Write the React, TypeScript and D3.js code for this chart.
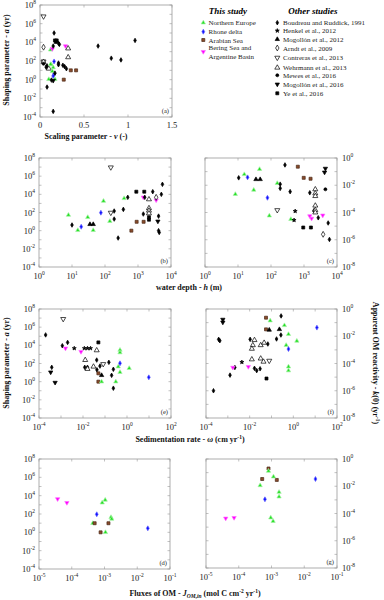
import { useEffect, useRef } from "react";
import * as d3 from "d3";

// [series, x, y]
type Pt = [string, number, number];

// (a) a vs v
const panelA: Pt[] = [
  ["CO", 0.04, 6e6], ["BR", 0.16, 1e5], ["YE", 0.17, 1.6e4], ["YE", 0.19, 1.6e4], ["YE", 0.18, 1.1e4],
  ["BR", 0.22, 6e3], ["BR", 0.21, 8e3], ["AR", 0.04, 3e3], ["NE", 0.12, 1.6e3], ["BS", 0.14, 2e3],
  ["BR", 0.15, 4e3], ["BS", 0.29, 4e3], ["WE", 0.32, 2.2e3], ["WE", 0.32, 2.5e2], ["BR", 0.66, 4e3],
  ["BR", 0.81, 2e2], ["BR", 0.92, 1.3e2], ["BR", 1.08, 1.6e4], ["CO", 0.04, 90], ["WE", 0.04, 80],
  ["ME", 0.04, 50], ["BR", 0.08, 30], ["WE", 0.1, 15], ["BR", 0.07, 22], ["RD", 0.16, 90],
  ["RD", 0.16, 4], ["RD", 0.15, 2.5], ["NE", 0.13, 40], ["NE", 0.15, 20], ["NE", 0.14, 8],
  ["NE", 0.1, 1.1], ["NE", 0.17, 1.1], ["NE", 0.12, 45], ["BR", 0.21, 60], ["BR", 0.21, 40],
  ["BR", 0.26, 35], ["BR", 0.28, 25], ["BR", 0.3, 15], ["BR", 0.17, 5], ["AS", 0.35, 10],
  ["AS", 0.41, 10], ["AS", 0.27, 1], ["M16", 0.15, 0.8], ["BR", 0.13, 0.9], ["BR", 0.08, 0.16],
  ["BR", 0.15, 4e-4],
];

// (b) a vs h
const panelB: Pt[] = [
  ["NE", 7.8, 52], ["NE", 15, 1.1], ["NE", 30, 30], ["NE", 44, 1.1], ["NE", 90, 1.8e3], ["NE", 140, 11],
  ["NE", 380, 3.6e3], ["BR", 10, 4.2], ["BR", 190, 145], ["BR", 190, 19], ["BR", 250, 0.155],
  ["BR", 360, 220], ["BR", 490, 4.7e3], ["RD", 19, 2.7], ["RD", 75, 95], ["M12", 35, 5], ["M12", 44, 5],
  ["CO", 150, 9.3e6], ["CO", 150, 95], ["AS", 630, 1], ["AS", 910, 9.5], ["AS", 1480, 9.5],
  ["YE", 890, 1.95e4], ["YE", 1550, 1.95e4], ["YE", 2150, 30], ["YE", 2150, 16], ["BR", 1450, 68],
  ["BR", 2800, 1.95e4], ["BR", 4200, 40], ["BR", 5100, 1e4], ["BR", 5500, 1.26e5], ["BR", 4200, 1],
  ["BR", 4400, 0.63], ["BS", 1450, 4.7e3], ["BS", 3550, 2.3e3], ["BR", 1600, 4.7e3],
  ["WE", 2150, 2.8e3], ["WE", 2150, 300], ["WE", 2150, 160], ["WE", 2150, 80], ["AR", 3550, 4.7e3],
  ["M16", 4000, 10.7],
];

// (c) k0 vs h
const panelC: Pt[] = [
  ["NE", 8.3, 2.2e-3], ["NE", 15.5, 6.3e-2], ["NE", 30, 4.5e-3], ["NE", 45, 0.15], ["NE", 89, 5.8e-5],
  ["NE", 155, 1.4e-2], ["NE", 400, 3.2e-5], ["BR", 10.5, 3.5e-2], ["BR", 190, 1.2e-2], ["BR", 190, 5.9e-3],
  ["BR", 265, 0.31], ["BR", 380, 3.4e-3], ["BR", 1500, 2.8e-3], ["BR", 2000, 1.35e-4], ["BR", 2700, 4.1e-5],
  ["BR", 5400, 1.7e-5], ["BR", 5900, 1.05e-6], ["RD", 19.5, 3.8e-2], ["RD", 78, 1.2e-3],
  ["M12", 35, 2.7e-2], ["M12", 47, 2.7e-2], ["CO", 155, 1.5e-4], ["HE", 500, 2.75e-5], ["HE", 540, 1.26e-4],
  ["AS", 650, 0.23], ["AS", 980, 3.5e-2], ["AS", 1580, 3e-2], ["YE", 950, 7.9e-6], ["YE", 1620, 7.9e-6],
  ["WE", 2200, 5e-3], ["WE", 2200, 2.5e-3], ["WE", 2200, 1.6e-3], ["WE", 2200, 3.2e-4], ["WE", 2200, 1.5e-4],
  ["WE", 2200, 1e-4], ["BS", 1500, 5.5e-5], ["BS", 1700, 3.7e-5], ["BS", 3700, 6.2e-5], ["ME", 4450, 5e-3],
  ["M16", 4450, 0.17], ["M16", 4200, 8.9e-2], ["AR", 3800, 2.5e-6],
];

// (e) a vs omega
const panelE: Pt[] = [
  ["CO", 1.26e-3, 8e6], ["CO", 8.3e-2, 87], ["BR", 2e-4, 1.4e5], ["BR", 1.15e-3, 9e3], ["BR", 2e-3, 2.1e4],
  ["BR", 3.8e-4, 38], ["BR", 4.2e-2, 240], ["BR", 1.5e-1, 135], ["BR", 2e-1, 5], ["BR", 2.4e-1, 23],
  ["BR", 2.4e-1, 0.19], ["BR", 5.9e-2, 52], ["BR", 4.3e-2, 20], ["BR", 1.2e-2, 38], ["BR", 1.6e-2, 38],
  ["M16", 3.4e-4, 11], ["M16", 5.4e-4, 0.8], ["BS", 1.6e-3, 4.7e3], ["BS", 8.1e-3, 2e3], ["HE", 4e-3, 4.7e3],
  ["HE", 1.15e-2, 4.7e3], ["HE", 1.6e-2, 4.7e3], ["HE", 2.2e-2, 4.7e3], ["WE", 4.2e-2, 2.8e3],
  ["WE", 1.26e-2, 240], ["WE", 1.6e-2, 25], ["WE", 3e-2, 45], ["YE", 5e-2, 2.1e4], ["AS", 5e-2, 8.3],
  ["AS", 5e-2, 1], ["M12", 7e-2, 5], ["NE", 7e-2, 1], ["NE", 0.31, 1], ["NE", 0.4, 45], ["NE", 0.48, 3e3],
  ["NE", 0.48, 1.6e3], ["NE", 0.48, 11], ["NE", 1.26, 30], ["RD", 0.48, 105], ["RD", 9.8, 3],
];

// (f) k0 vs omega
const panelF: Pt[] = [
  ["M16", 5.9e-4, 0.17], ["M16", 5.9e-4, 0.105], ["BR", 3.8e-4, 5.9e-3], ["BR", 4.3e-4, 4.7e-3],
  ["BR", 2.2e-4, 1e-6], ["BR", 1.26e-3, 1.4e-5], ["BR", 2.1e-3, 5.1e-5], ["BR", 1.05e-2, 5.9e-3],
  ["BR", 1.66e-2, 4.4e-5], ["BR", 2.1e-2, 3e-5], ["BR", 3e-2, 4.1e-5], ["BR", 6.8e-2, 2.7e-3],
  ["BR", 0.275, 0.31], ["BR", 0.27, 1.23e-2], ["BR", 0.17, 6.3e-3], ["BS", 1.7e-3, 5.1e-5],
  ["BS", 8.7e-3, 5.8e-5], ["HE", 4.4e-3, 1.26e-4], ["WE", 1.66e-2, 5.2e-3], ["WE", 1.4e-2, 2.2e-3],
  ["WE", 1.26e-2, 1.2e-3], ["WE", 1.26e-2, 2e-4], ["WE", 3.2e-2, 2.3e-4], ["WE", 4.3e-2, 1.35e-4],
  ["WE", 3.2e-2, 2.2e-3], ["WE", 4.6e-2, 3.3e-3], ["CO", 7.9e-2, 1.6e-4], ["YE", 5.9e-2, 7.9e-6],
  ["AS", 5.6e-2, 0.23], ["AS", 5.6e-2, 3.2e-2], ["NE", 8.7e-2, 0.14], ["NE", 0.39, 6.3e-2],
  ["NE", 0.6, 1.4e-2], ["NE", 0.47, 2.2e-3], ["NE", 0.6, 5.8e-5], ["NE", 0.6, 3e-5], ["NE", 1.45, 4.5e-3],
  ["M12", 7.9e-2, 2.9e-2], ["M12", 0.23, 3.2e-2], ["RD", 0.6, 1.15e-3], ["RD", 12, 4.3e-2],
];

// (d) a vs J
const panelD: Pt[] = [
  ["BS", 3.7e-5, 4.4e3], ["BS", 7.1e-5, 1.7e3], ["NE", 8.5e-4, 1.7e3], ["NE", 1.05e-3, 3.4e3],
  ["NE", 1.58e-3, 44], ["NE", 1.66e-3, 29], ["NE", 4.4e-4, 9.8], ["NE", 1.07e-3, 1], ["RD", 5.8e-4, 93],
  ["RD", 2.1e-2, 2.75], ["AS", 5e-4, 9.8], ["AS", 1.32e-3, 9.8], ["AS", 7.6e-4, 1],
];

// (g) k0 vs J
const panelG: Pt[] = [
  ["BS", 4e-5, 4.4e-5], ["BS", 7.2e-5, 4.9e-5], ["AS", 8.1e-4, 0.2], ["AS", 5.2e-4, 3.4e-2],
  ["AS", 1.45e-3, 2.9e-2], ["NE", 8.1e-4, 0.13], ["NE", 4.5e-4, 1.15e-2], ["NE", 1.15e-3, 5e-2],
  ["NE", 1.7e-3, 3.7e-3], ["NE", 1.7e-3, 1.7e-3], ["NE", 9.5e-4, 4.9e-5], ["NE", 1.12e-3, 2.75e-5],
  ["RD", 6.3e-4, 1.1e-3], ["RD", 2.2e-2, 3.4e-2],
];

const thisStudy = [
  ["NE", "Northern Europe"],
  ["RD", "Rhone delta"],
  ["AS", "Arabian Sea"],
  ["BS", "Bering Sea and|Argentine Basin"],
];
const otherStudies = [
  ["BR", "Boudreau and Ruddick, 1991"],
  ["HE", "Henkel et al., 2012"],
  ["M12", "Mogollón et al., 2012"],
  ["AR", "Arndt et al., 2009"],
  ["CO", "Contreras et al., 2013"],
  ["WE", "Wehrmann et al., 2013"],
  ["ME", "Mewes et al., 2016"],
  ["M16", "Mogollón et al., 2016"],
  ["YE", "Ye et al., 2016"],
];

const FONT = "'Liberation Serif', 'Times New Roman', serif";

const markers: Record<string, { shape: d3.SymbolType; fill: string; stroke: string; size: number; down?: boolean }> = {
  NE: { shape: d3.symbolTriangle, fill: "#22e022", stroke: "#a8f0a8", size: 8 },
  RD: { shape: d3.symbolDiamond, fill: "#1010ff", stroke: "#6060ff", size: 7 },
  AS: { shape: d3.symbolSquare, fill: "#8a4b2a", stroke: "#4a2a18", size: 9 },
  BS: { shape: d3.symbolTriangle, fill: "#ff00ff", stroke: "#ff70ff", size: 8, down: true },
  BR: { shape: d3.symbolDiamond, fill: "#000", stroke: "#000", size: 6 },
  HE: { shape: d3.symbolStar, fill: "#000", stroke: "#000", size: 5 },
  M12: { shape: d3.symbolTriangle, fill: "#000", stroke: "#000", size: 8 },
  AR: { shape: d3.symbolDiamond, fill: "#fff", stroke: "#000", size: 10 },
  CO: { shape: d3.symbolTriangle, fill: "#fff", stroke: "#000", size: 11, down: true },
  WE: { shape: d3.symbolTriangle, fill: "#fff", stroke: "#000", size: 11 },
  ME: { shape: d3.symbolCircle, fill: "#000", stroke: "#000", size: 7 },
  M16: { shape: d3.symbolTriangle, fill: "#000", stroke: "#000", size: 8, down: true },
  YE: { shape: d3.symbolSquare, fill: "#000", stroke: "#000", size: 9 },
};

interface IPanel {
  data: Pt[];
  box: [number, number, number, number];
  xLog: boolean;
  xDomain: [number, number];
  yDomain: [number, number];
  xLabelExps?: number[];
  yRight: boolean;
  letter: string;
}

const panels: IPanel[] = [
  { data: panelA, box: [40, 5, 172, 117], xLog: false, xDomain: [0, 1.5], yDomain: [1e-4, 1e8], yRight: false, letter: "(a)" },
  { data: panelB, box: [39, 158, 171, 267], xLog: true, xDomain: [1, 1e4], yDomain: [1e-4, 1e8], xLabelExps: [0, 1, 2, 3, 4], yRight: false, letter: "(b)" },
  { data: panelC, box: [205, 158, 337, 267], xLog: true, xDomain: [1, 1e4], yDomain: [1e-8, 1], xLabelExps: [0, 1, 2, 3, 4], yRight: true, letter: "(c)" },
  { data: panelE, box: [39, 309, 171, 418], xLog: true, xDomain: [1e-4, 1e2], yDomain: [1e-4, 1e8], xLabelExps: [-4, -2, 0, 2], yRight: false, letter: "(e)" },
  { data: panelF, box: [206, 309, 337, 418], xLog: true, xDomain: [1e-4, 1e2], yDomain: [1e-8, 1], xLabelExps: [-4, -2, 0, 2], yRight: true, letter: "(f)" },
  { data: panelD, box: [39, 459, 170, 569], xLog: true, xDomain: [1e-5, 1e-1], yDomain: [1e-4, 1e8], xLabelExps: [-5, -4, -3, -2, -1], yRight: false, letter: "(d)" },
  { data: panelG, box: [206, 459, 337, 568], xLog: true, xDomain: [1e-5, 1e-1], yDomain: [1e-8, 1], xLabelExps: [-5, -4, -3, -2, -1], yRight: true, letter: "(g)" },
];

function App() {
  const ref = useRef<SVGSVGElement | null>(null);

  useEffect(() => {
    const svg = d3.select(ref.current);
    svg.selectAll("*").remove();

    const drawMarker = (g: any, key: string, x: number, y: number) => {
      const m = markers[key];
      g.append("path")
        .attr("d", d3.symbol().type(m.shape).size(m.size)())
        .attr("transform", `translate(${x},${y})${m.down ? " rotate(180)" : ""}`)
        .attr("fill", m.fill)
        .attr("stroke", m.stroke)
        .attr("stroke-width", 0.7);
    };

    const powLabel = (g: any, x: number, y: number, e: number, anchor: string) => {
      const t = g
        .append("text")
        .attr("x", x)
        .attr("y", y)
        .attr("text-anchor", anchor)
        .attr("font-family", FONT)
        .attr("font-size", 8.5)
        .attr("fill", "#222");
      t.append("tspan").text("10");
      t.append("tspan").attr("dy", -4).attr("font-size", 5.5).text(String(e));
    };

    panels.forEach((p) => {
      const [x0, y0, x1, y1] = p.box;
      const g = svg.append("g");
      const xScale: any = p.xLog
        ? d3.scaleLog().domain(p.xDomain).range([x0, x1])
        : d3.scaleLinear().domain(p.xDomain).range([x0, x1]);
      const yScale = d3.scaleLog().domain(p.yDomain).range([y1, y0]);

      g.append("rect")
        .attr("x", x0)
        .attr("y", y0)
        .attr("width", x1 - x0)
        .attr("height", y1 - y0)
        .attr("fill", "#fff")
        .attr("stroke", "#999")
        .attr("stroke-width", 0.8);

      // x ticks
      const xTicks: number[] = p.xLog
        ? d3.range(Math.log10(p.xDomain[0]), Math.log10(p.xDomain[1]) + 1).map((e) => Math.pow(10, e))
        : [0, 0.5, 1, 1.5];
      xTicks.forEach((t) => {
        const px = xScale(t);
        g.append("line").attr("x1", px).attr("x2", px).attr("y1", y1).attr("y2", y1 - 2.5).attr("stroke", "#999").attr("stroke-width", 0.6);
        g.append("line").attr("x1", px).attr("x2", px).attr("y1", y0).attr("y2", y0 + 2.5).attr("stroke", "#999").attr("stroke-width", 0.6);
      });
      if (p.xLog) {
        (p.xLabelExps || []).forEach((e) => powLabel(g, xScale(Math.pow(10, e)), y1 + 12, e, "middle"));
      } else {
        xTicks.forEach((t) =>
          g.append("text")
            .attr("x", xScale(t))
            .attr("y", y1 + 11)
            .attr("text-anchor", "middle")
            .attr("font-family", FONT)
            .attr("font-size", 8.5)
            .attr("fill", "#222")
            .text(String(t))
        );
      }

      // y ticks
      const yE0 = Math.log10(p.yDomain[0]);
      const yE1 = Math.log10(p.yDomain[1]);
      d3.range(yE0, yE1 + 1).forEach((e) => {
        const py = yScale(Math.pow(10, e));
        g.append("line").attr("x1", x0).attr("x2", x0 + 2.5).attr("y1", py).attr("y2", py).attr("stroke", "#999").attr("stroke-width", 0.6);
        g.append("line").attr("x1", x1).attr("x2", x1 - 2.5).attr("y1", py).attr("y2", py).attr("stroke", "#999").attr("stroke-width", 0.6);
        if ((e - yE0) % 2 === 0) {
          if (p.yRight) powLabel(g, x1 + 5, py + 3, e, "start");
          else powLabel(g, x0 - 4, py + 3, e, "end");
        }
      });

      p.data.forEach(([k, x, y]) => drawMarker(g, k, xScale(x), yScale(y)));

      g.append("text")
        .attr("x", x1 - 3)
        .attr("y", y1 - 4)
        .attr("text-anchor", "end")
        .attr("font-family", FONT)
        .attr("font-size", 6.5)
        .attr("fill", "#222")
        .text(p.letter);
    });

    // axis titles
    const title = (x: number, y: number, parts: [string, string?][], rotate = 0) => {
      const t = svg
        .append("text")
        .attr("transform", `translate(${x},${y}) rotate(${rotate})`)
        .attr("text-anchor", "middle")
        .attr("font-family", FONT)
        .attr("font-weight", "bold")
        .attr("font-size", 8)
        .attr("fill", "#111");
      parts.forEach(([s, st]) => {
        const ts = t.append("tspan").text(s);
        if (st === "i") ts.attr("font-style", "italic");
        if (st === "sup") ts.attr("font-size", 5.5).attr("dy", -3);
        if (st === "base") ts.attr("dy", 3);
        if (st === "sub") ts.attr("font-size", 5.5).attr("font-style", "italic").attr("dy", 2);
        if (st === "subend") ts.attr("dy", -2);
      });
    };
    title(86, 139, [["Scaling parameter - "], ["v", "i"], [" (-)"]]);
    title(189, 290, [["water depth - "], ["h", "i"], [" (m)"]]);
    title(190, 442, [["Sedimentation rate - "], ["ω", "i"], [" (cm yr"], ["-1", "sup"], [")", "base"]]);
    title(195, 596, [["Fluxes of OM - "], ["J", "i"], ["OM,in", "sub"], [" (mol C cm", "subend"], ["-2", "sup"], [" yr", "base"], ["-1", "sup"], [")", "base"]]);
    title(9, 60, [["Shaping parameter - "], ["a", "i"], [" (yr)"]], -90);
    title(9, 363, [["Shaping parameter - "], ["a", "i"], [" (yr)"]], -90);
    title(373, 363, [["Apparent OM reactivity - "], ["k", "i"], ["(0) (yr"], ["-1", "sup"], [")", "base"]], 90);

    // legend
    const lg = svg.append("g");
    const header = (x: number, s: string) =>
      lg.append("text")
        .attr("x", x)
        .attr("y", 14)
        .attr("text-anchor", "middle")
        .attr("font-family", FONT)
        .attr("font-weight", "bold")
        .attr("font-style", "italic")
        .attr("font-size", 9)
        .text(s);
    header(228, "This study");
    header(313, "Other studies");

    const thisRows = [22.7, 31.7, 40, 51.7];
    thisStudy.forEach(([k, label], i) => {
      drawMarker(lg, k, 203.3, thisRows[i]);
      label.split("|").forEach((line, j, arr) => {
        const yy = arr.length > 1 ? 47.7 + j * 8.6 : thisRows[i];
        lg.append("text")
          .attr("x", 208.5)
          .attr("y", yy + 2.5)
          .attr("font-family", FONT)
          .attr("font-size", 7)
          .attr("fill", "#222")
          .text(line);
      });
    });
    const otherRows = [22.7, 30.7, 39.3, 48, 57.7, 67.7, 75.3, 84.3, 93.3];
    otherStudies.forEach(([k, label], i) => {
      drawMarker(lg, k, 277.3, otherRows[i]);
      lg.append("text")
        .attr("x", 283)
        .attr("y", otherRows[i] + 2.5)
        .attr("font-family", FONT)
        .attr("font-size", 7)
        .attr("fill", "#222")
        .text(label);
    });
  }, []);

  return (
    <svg
      ref={ref}
      width={384}
      height={600}
      style={{ position: "absolute", left: 0, top: 0, background: "#fff" }}
    />
  );
}

export default App;
